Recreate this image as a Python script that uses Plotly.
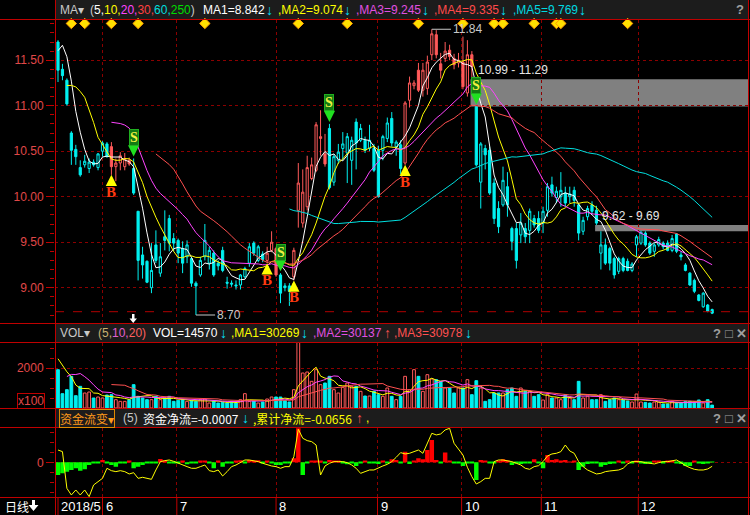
import math
import pandas as pd
import plotly.graph_objects as go

W, H = 750, 515

# ------------------------------------------------------------------ data
warmup_close = [10.50, 10.60, 10.75, 11.03, 11.65, 11.85, 12.10]
warmup_volume = [550, 650, 600, 2300, 2600, 2800, 2700]

open_ = [
    11.70, 11.40, 11.28, 10.70, 10.52, 10.32, 10.35, 10.31, 10.38, 10.32,
    10.50, 10.58, 10.55, 10.33, 10.37, 10.33, 10.40, 10.31, 9.84, 9.36,
    9.29, 9.00, 9.47, 9.16, 9.56, 9.76, 9.54, 9.52, 9.43, 9.34,
    9.32, 9.05, 9.14, 9.34, 9.27, 9.38, 9.27, 9.41, 9.06, 9.05,
    9.03, 9.03, 9.12, 9.27, 9.49, 9.30, 9.37, 9.30, 9.41, 9.43,
    9.14, 9.02, 9.02, 9.12, 9.85, 9.71, 9.89, 10.20, 10.29, 10.64,
    10.47, 10.75, 10.16, 10.40, 10.53, 10.48, 10.40, 10.82, 10.62, 10.62,
    10.53, 10.53, 10.51, 10.51, 10.64, 10.86, 10.55, 10.57, 10.37, 11.06,
    11.22, 11.39, 11.17, 11.19, 11.56, 11.78, 11.46, 11.52, 11.61, 11.52,
    11.47, 11.48, 11.14, 11.56, 10.99, 10.16, 10.53, 10.51, 10.15, 9.87,
    9.91, 10.11, 9.65, 9.65, 9.58, 9.65, 9.63, 9.76, 9.76, 9.71,
    9.85, 10.13, 9.99, 10.00, 10.04, 10.00, 10.07, 9.91, 9.62, 9.78,
    9.91, 9.85, 9.38, 9.47, 9.43, 9.32, 9.18, 9.32, 9.29, 9.19,
    9.47, 9.49, 9.60, 9.49, 9.40, 9.47, 9.49, 9.49, 9.41, 9.59,
    9.36, 9.25, 9.16, 9.08, 8.92, 8.79, 8.81, 8.76,
]
high = [
    11.72, 11.46, 11.30, 10.72, 10.57, 10.40, 10.46, 10.42, 10.41, 10.48,
    10.61, 10.60, 10.60, 10.42, 10.49, 10.48, 10.43, 10.42, 9.84, 9.45,
    9.30, 9.49, 9.63, 9.49, 9.85, 9.80, 9.60, 9.54, 9.51, 9.52,
    9.34, 9.07, 9.34, 9.70, 9.45, 9.41, 9.30, 9.45, 9.12, 9.08,
    9.08, 9.15, 9.23, 9.49, 9.51, 9.47, 9.40, 9.45, 9.62, 9.45,
    9.16, 9.05, 9.05, 9.44, 10.37, 10.30, 10.45, 10.43, 10.82, 10.95,
    10.69, 10.80, 10.47, 10.58, 10.71, 10.70, 10.66, 10.86, 10.80, 10.66,
    10.79, 10.58, 10.56, 10.68, 10.87, 10.93, 10.62, 10.62, 11.05, 11.32,
    11.28, 11.47, 11.47, 11.55, 11.84, 11.83, 11.58, 11.70, 11.67, 11.57,
    11.58, 11.76, 11.72, 11.60, 10.99, 10.60, 10.57, 10.55, 10.20, 9.95,
    10.33, 10.27, 9.67, 9.71, 9.82, 9.71, 9.87, 9.80, 9.84, 9.89,
    10.15, 10.22, 10.11, 10.27, 10.11, 10.11, 10.11, 9.93, 9.78, 9.90,
    9.95, 9.90, 9.62, 9.54, 9.45, 9.34, 9.34, 9.34, 9.32, 9.28,
    9.58, 9.62, 9.62, 9.51, 9.49, 9.56, 9.51, 9.52, 9.58, 9.60,
    9.40, 9.27, 9.17, 9.10, 8.93, 8.95, 8.82, 8.77,
]
low = [
    11.26, 11.28, 11.00, 10.35, 10.35, 10.22, 10.32, 10.26, 10.33, 10.29,
    10.44, 10.43, 10.24, 10.17, 10.29, 10.29, 10.34, 10.02, 9.08, 9.10,
    9.05, 8.94, 9.27, 9.12, 9.41, 9.40, 9.40, 9.27, 9.16, 9.27,
    9.01, 8.70, 9.12, 9.30, 9.20, 9.12, 9.19, 9.17, 8.99, 9.01,
    8.98, 8.98, 9.10, 9.23, 9.35, 9.28, 9.28, 9.27, 9.39, 9.12,
    8.83, 8.96, 8.80, 9.08, 9.66, 9.66, 9.85, 10.18, 10.27, 10.45,
    10.33, 10.08, 10.12, 10.36, 10.40, 10.15, 10.13, 10.30, 10.60, 10.48,
    10.50, 10.27, 9.99, 10.40, 10.60, 10.55, 10.45, 10.25, 10.35, 10.98,
    11.18, 11.15, 11.10, 11.12, 11.50, 11.52, 11.30, 11.48, 11.50, 11.40,
    11.42, 11.18, 11.10, 11.29, 10.33, 9.87, 10.30, 10.02, 9.70, 9.60,
    9.89, 9.78, 9.41, 9.21, 9.49, 9.49, 9.49, 9.66, 9.60, 9.60,
    9.78, 10.00, 9.93, 9.89, 9.89, 9.93, 9.89, 9.52, 9.58, 9.74,
    9.80, 9.69, 9.20, 9.25, 9.19, 9.10, 9.15, 9.17, 9.18, 9.17,
    9.34, 9.47, 9.45, 9.36, 9.34, 9.45, 9.42, 9.40, 9.39, 9.38,
    9.30, 9.18, 9.02, 8.94, 8.85, 8.78, 8.73, 8.71,
]
close = [
    11.39, 11.33, 11.02, 10.51, 10.44, 10.24, 10.39, 10.38, 10.35, 10.47,
    10.59, 10.44, 10.33, 10.37, 10.45, 10.42, 10.36, 10.04, 9.30, 9.25,
    9.06, 9.19, 9.30, 9.34, 9.52, 9.49, 9.49, 9.38, 9.27, 9.47,
    9.05, 9.02, 9.30, 9.52, 9.41, 9.14, 9.24, 9.19, 9.05, 9.04,
    9.02, 9.14, 9.21, 9.45, 9.38, 9.45, 9.31, 9.38, 9.50, 9.14,
    8.94, 9.00, 8.96, 9.41, 10.15, 10.05, 10.32, 10.35, 10.79, 10.66,
    10.36, 10.10, 10.44, 10.49, 10.58, 10.66, 10.62, 10.59, 10.75, 10.51,
    10.62, 10.29, 10.00, 10.66, 10.81, 10.59, 10.60, 10.31, 11.03, 11.25,
    11.25, 11.17, 11.39, 11.48, 11.79, 11.56, 11.39, 11.60, 11.54, 11.45,
    11.50, 11.21, 11.56, 11.43, 10.35, 10.58, 10.46, 10.04, 9.76, 9.67,
    10.18, 9.91, 9.51, 9.30, 9.71, 9.56, 9.84, 9.69, 9.63, 9.84,
    10.11, 10.04, 10.06, 10.07, 9.93, 10.03, 9.96, 9.60, 9.74, 9.87,
    9.84, 9.71, 9.47, 9.27, 9.27, 9.14, 9.32, 9.19, 9.19, 9.26,
    9.56, 9.61, 9.47, 9.38, 9.47, 9.53, 9.45, 9.41, 9.54, 9.40,
    9.34, 9.19, 9.03, 8.96, 8.86, 8.94, 8.74, 8.72,
]
volume = [
    1917, 717, 917, 1583, 617, 1083, 750, 800, 500, 550,
    500, 650, 667, 417, 333, 333, 417, 1167, 583, 500,
    417, 417, 583, 417, 500, 583, 333, 383, 417, 333,
    367, 333, 417, 450, 250, 350, 250, 283, 250, 333,
    250, 417, 717, 333, 367, 250, 300, 450, 550, 550,
    550, 367, 300, 917, 3400, 1750, 1800, 1333, 1917, 1167,
    1250, 1583, 917, 750, 1033, 1250, 1083, 1083, 833, 600,
    600, 833, 667, 583, 1000, 583, 417, 583, 1583, 917,
    1917, 1583, 833, 1667, 1450, 1417, 1333, 1000, 1000, 750,
    1000, 1000, 1417, 667, 1367, 1000, 333, 417, 750, 750,
    750, 917, 1000, 583, 1000, 833, 833, 583, 667, 400,
    667, 500, 500, 417, 667, 500, 417, 1333, 500, 583,
    417, 417, 667, 333, 417, 500, 417, 400, 350, 300,
    700, 300, 280, 250, 300, 300, 200, 202, 333, 250,
    250, 333, 333, 300, 400, 250, 417, 146,
]
flow_net = [
    -0.208, -0.180, -0.153, -0.126, -0.098, -0.137, -0.115, -0.044, -0.016, -0.011,
    0.038, -0.011, -0.044, -0.071, -0.016, -0.016, 0.022, -0.098, -0.071, -0.044,
    -0.016, -0.011, -0.005, 0.055, 0.022, -0.005, -0.011, -0.011, 0.022, -0.033,
    -0.011, -0.016, 0.022, 0.022, -0.011, -0.098, 0.022, -0.071, -0.011, -0.016,
    0.022, 0.033, -0.011, 0.038, 0.027, 0.033, -0.011, 0.027, -0.011, -0.044,
    -0.044, -0.011, -0.005, 0.066, 0.558, -0.208, -0.011, 0.016, 0.022, 0.022,
    -0.011, 0.038, 0.027, 0.022, -0.011, -0.033, -0.011, -0.060, -0.011, 0.022,
    -0.016, -0.011, -0.027, 0.022, -0.005, 0.049, 0.038, -0.011, 0.175, -0.027,
    0.022, 0.066, 0.049, 0.202, 0.366, 0.038, -0.011, 0.159, 0.022, -0.011,
    -0.011, -0.060, -0.011, -0.016, -0.290, 0.038, 0.022, -0.011, -0.011, 0.027,
    0.049, 0.022, -0.044, -0.016, -0.027, -0.011, -0.005, 0.049, -0.011, -0.098,
    0.120, 0.038, 0.049, 0.022, 0.038, 0.011, 0.027, -0.126, -0.071, -0.027,
    -0.011, -0.016, -0.071, -0.044, -0.027, -0.011, 0.022, -0.011, 0.022, -0.005,
    0.027, -0.011, -0.027, -0.011, 0.022, 0.027, -0.011, 0.027, 0.027, -0.011,
    -0.027, -0.060, -0.060, 0.022, -0.016, -0.027, -0.011, -0.0007,
]
flow_cum = [
    0.202, 0.175, -0.427, -0.536, -0.454, -0.536, -0.454, -0.563, -0.372, -0.317,
    -0.263, -0.098, -0.137, -0.153, -0.137, -0.153, -0.191, -0.170, -0.263, -0.246,
    -0.263, -0.279, -0.126, 0.011, 0.027, 0.038, 0.016, -0.016, -0.044, -0.071,
    -0.098, -0.098, -0.071, -0.044, -0.137, -0.153, -0.126, -0.224, -0.153, -0.071,
    -0.044, 0.000, 0.038, 0.038, 0.027, 0.011, -0.016, -0.044, -0.060, -0.071,
    -0.098, -0.071, -0.071, 0.093, 0.542, 0.394, 0.356, 0.339, 0.284, -0.208,
    -0.060, -0.016, 0.011, 0.011, 0.011, -0.005, -0.044, -0.098, -0.181, -0.153,
    -0.126, -0.126, -0.088, -0.060, -0.033, 0.011, 0.082, 0.159, 0.137, 0.148,
    0.175, 0.202, 0.148, 0.312, 0.476, 0.449, 0.465, 0.531, 0.558, 0.312,
    0.213, 0.120, -0.082, -0.235, -0.356, -0.317, -0.263, -0.263, 0.011, 0.038,
    0.038, 0.027, 0.011, -0.016, -0.044, -0.098, -0.115, -0.071, -0.055, 0.011,
    0.104, 0.137, 0.148, 0.175, 0.284, 0.186, 0.148, 0.011, -0.071, -0.126,
    -0.153, -0.191, -0.181, -0.153, -0.142, -0.137, -0.126, -0.098, -0.027, 0.011,
    0.011, 0.011, -0.005, -0.016, -0.027, -0.005, 0.011, 0.011, 0.027, 0.038,
    -0.005, -0.055, -0.088, -0.115, -0.126, -0.126, -0.109, -0.0656,
]
buy_signals = [12, 47, 53, 78]
sell_signals = [17, 50, 61, 94]
event_days = [3, 6, 12, 18, 33, 54, 65, 81, 91, 98, 100, 107, 112, 113, 128]
month_ticks = [0, 10.0, 26.7, 49.0, 71.8, 90.7, 108.6, 130.4]
month_labels = ["2018/5", "6", "7", "8", "9", "10", "11", "12"]
price_ticks = [9.0, 9.5, 10.0, 10.5, 11.0, 11.5]
gap_before = [93, 121]
ma_periods = [5, 10, 20, 30, 60]
vol_ma_periods = [5, 10, 20]

# ------------------------------------------------------------------ style
FONT = "Liberation Sans, Arial, sans-serif"
CJK = "Noto Sans CJK SC, sans-serif"
RED_C = "#ff5a5a"
CYAN_C = "#00f0f0"
BORDER = "#c00000"
GRID = "#8c0000"
AXIS_TXT = "#e04848"
HEADER_BG = "#1c1c1c"

X0_PX, X1_PX = 55, 748
FIRST_PX, STEP_PX = 58, 4.45
X_RANGE = [(X0_PX - FIRST_PX) / STEP_PX, (X1_PX - FIRST_PX) / STEP_PX]
PPU = 91.0
Y_RANGE = [9 - (323 - 287.7) / PPU, 9 + (287.7 - 20) / PPU]
VOL_RANGE = [0, (408 - 342.5) * 50]
FLOW_RANGE = [-0.569, 0.571]


def fx(p):
    return p / W


def fy(p):
    return 1 - p / H


n = len(close)
idx = list(range(n))


def rolling(seq, warm, p):
    s = pd.Series(list(warm) + list(seq), dtype=float).rolling(p).mean()
    vals = s.iloc[len(warm):].tolist()
    return [None if math.isnan(v) else round(v, 4) for v in vals]


state = []
on = False
for i in idx:
    if i in buy_signals:
        on = True
    if i in sell_signals:
        on = False
    state.append(on)

fig = go.Figure()

# candles, coloured by the B/S state
for flag, col in ((False, CYAN_C), (True, RED_C)):
    sel = [i for i in idx if state[i] == flag]
    fig.add_trace(go.Candlestick(
        x=sel,
        open=[open_[i] for i in sel], high=[high[i] for i in sel],
        low=[low[i] for i in sel], close=[close[i] for i in sel],
        increasing=dict(line=dict(color=col, width=1), fillcolor="#000000"),
        decreasing=dict(line=dict(color=col, width=1), fillcolor=col),
        whiskerwidth=0, showlegend=False, hoverinfo="skip",
        xaxis="x", yaxis="y"))

ma_colors = ["#ffffff", "#ffff00", "#ff44ff", "#ff5050", "#00dede"]
for p, c in zip(ma_periods, ma_colors):
    fig.add_trace(go.Scatter(x=idx, y=rolling(close, warmup_close, p), mode="lines",
                             line=dict(color=c, width=1), showlegend=False,
                             hoverinfo="skip", xaxis="x", yaxis="y"))

diamond_y = Y_RANGE[1] - 3.5 / PPU
fig.add_trace(go.Scatter(x=event_days, y=[diamond_y] * len(event_days), mode="markers",
                         marker=dict(symbol="diamond", size=8, color="#ffe000",
                                     line=dict(color="#ff9900", width=1)),
                         cliponaxis=False, showlegend=False, hoverinfo="skip",
                         xaxis="x", yaxis="y"))

# volume
up = [close[i] >= open_[i] for i in idx]
fig.add_trace(go.Bar(x=idx, y=volume, width=0.62,
                     marker=dict(color=["#000000" if u else CYAN_C for u in up],
                                 line=dict(color=[RED_C if u else CYAN_C for u in up], width=1)),
                     showlegend=False, hoverinfo="skip", xaxis="x2", yaxis="y2"))
for p, c in zip(vol_ma_periods, ["#ffff00", "#ff44ff", "#ff5050"]):
    fig.add_trace(go.Scatter(x=idx, y=rolling(volume, warmup_volume, p), mode="lines",
                             line=dict(color=c, width=1), showlegend=False,
                             hoverinfo="skip", xaxis="x2", yaxis="y2"))

# money flow
fig.add_trace(go.Bar(x=idx, y=flow_net, width=1.0,
                     marker=dict(color=["#ff0000" if v > 0 else "#00ff00" for v in flow_net],
                                 line=dict(width=0)),
                     showlegend=False, hoverinfo="skip", xaxis="x3", yaxis="y3"))
fig.add_trace(go.Scatter(x=idx, y=flow_cum, mode="lines", line=dict(color="#ffff00", width=1),
                         showlegend=False, hoverinfo="skip", xaxis="x3", yaxis="y3"))

# ------------------------------------------------------------------ axes
xcommon = dict(range=X_RANGE, domain=[fx(X0_PX), fx(X1_PX)], showticklabels=False, ticks="",
               tickmode="array", tickvals=month_ticks[1:], showgrid=True, gridcolor=GRID,
               griddash="dot", gridwidth=1, zeroline=False, showline=False, fixedrange=True)
ycommon = dict(ticks="outside", ticklen=8, tickcolor=BORDER, showgrid=True, gridcolor=GRID,
               griddash="dot", gridwidth=1, zeroline=False, showline=False, fixedrange=True,
               tickfont=dict(color=AXIS_TXT, size=12, family=FONT), tickmode="array")

layout = dict(
    width=W, height=H, margin=dict(l=0, r=0, t=0, b=0),
    paper_bgcolor="#000000", plot_bgcolor="#000000", showlegend=False,
    font=dict(family=FONT, color="#ffffff"), barmode="overlay", boxgap=0.3,
    xaxis=dict(**xcommon, anchor="y", rangeslider=dict(visible=False)),
    xaxis2=dict(**xcommon, anchor="y2"),
    xaxis3=dict(**xcommon, anchor="y3"),
    yaxis=dict(**ycommon, domain=[fy(323), fy(20)], range=Y_RANGE, anchor="x",
               tickvals=price_ticks, ticktext=["%.2f" % v for v in price_ticks],
               minor=dict(ticks="outside", ticklen=4, tickcolor=BORDER, dtick=0.1, tick0=9.0,
                          showgrid=False)),
    yaxis2=dict(**ycommon, domain=[fy(408), fy(342.5)], range=VOL_RANGE, anchor="x2",
                tickvals=[2000], ticktext=["2000"],
                minor=dict(ticks="outside", ticklen=4, tickcolor=BORDER, dtick=500, tick0=0,
                           showgrid=False)),
    yaxis3=dict(**ycommon, domain=[fy(497), fy(427.5)], range=FLOW_RANGE, anchor="x3",
                tickvals=[0], ticktext=["0"],
                minor=dict(ticks="outside", ticklen=4, tickcolor=BORDER, dtick=0.164, tick0=0,
                           showgrid=False)),
)

# ------------------------------------------------------------------ shapes
shapes = []
for top, bot in ((0, 19), (324, 342), (409, 427)):
    shapes.append(dict(type="rect", xref="paper", yref="paper", x0=fx(X0_PX), x1=fx(X1_PX),
                       y0=fy(bot), y1=fy(top), fillcolor=HEADER_BG, line=dict(width=0),
                       layer="below"))
for py in (19.5, 323.5, 342.5, 408.5, 427.5, 497.5):
    shapes.append(dict(type="line", xref="paper", yref="paper", x0=0, x1=1, y0=fy(py), y1=fy(py),
                       line=dict(color=BORDER, width=1)))
for pxv in (55.5, 748.5):
    shapes.append(dict(type="line", xref="paper", yref="paper", x0=fx(pxv), x1=fx(pxv),
                       y0=0, y1=1, line=dict(color=BORDER, width=1)))
for m in month_ticks:
    shapes.append(dict(type="line", xref="x3", yref="paper", x0=m, x1=m, y0=0, y1=fy(497.5),
                       line=dict(color=BORDER, width=1)))
# dashed bottom level line
shapes.append(dict(type="line", xref="paper", yref="y", x0=fx(X0_PX), x1=fx(X1_PX),
                   y0=9 - (311.7 - 287.7) / PPU, y1=9 - (311.7 - 287.7) / PPU,
                   line=dict(color="#b00000", width=1, dash="dash")))

annotations = []

# gap zones
for g in gap_before:
    top_v, bot_v = low[g], high[g + 1]
    shapes.append(dict(type="rect", xref="x", yref="y", x0=g - 0.3, x1=X_RANGE[1], y0=bot_v,
                       y1=top_v, fillcolor="#808080", line=dict(width=0), layer="below"))
    annotations.append(dict(x=g - 0.3, y=top_v, xref="x", yref="y",
                            text="%.2f - %.2f" % (bot_v, top_v), showarrow=False,
                            xanchor="left", yanchor="bottom", xshift=5, yshift=0,
                            font=dict(color="#e6e6e6", size=12, family=FONT)))

# extreme labels
imax = max(idx, key=lambda i: high[i])
imin = min(idx, key=lambda i: low[i])
for i_ext, v in ((imax, high[imax]), (imin, low[imin])):
    shapes.append(dict(type="line", xref="x", yref="y", x0=i_ext, x1=i_ext + 4.3, y0=v, y1=v,
                       line=dict(color="#c8c8c8", width=1)))
    annotations.append(dict(x=i_ext + 4.3, y=v, xref="x", yref="y", text="%.2f" % v,
                            showarrow=False, xanchor="left", yanchor="middle", xshift=0,
                            font=dict(color="#c8c8c8", size=12, family=FONT)))


def px_path(points):
    return "M " + " L ".join("%.5f %.5f" % (fx(a), fy(b)) for a, b in points) + " Z"


# cursor arrow and 日线 arrow
shapes.append(dict(type="path", xref="paper", yref="paper", fillcolor="#ffffff",
                   line=dict(width=0),
                   path=px_path([(132, 314), (134.5, 314), (134.5, 318.5), (137, 318.5),
                                 (133.2, 323), (129.5, 318.5), (132, 318.5)])))
shapes.append(dict(type="path", xref="paper", yref="paper", fillcolor="#ffffff",
                   line=dict(width=0),
                   path=px_path([(32, 500), (35, 500), (35, 505), (38.5, 505), (33.5, 511),
                                 (28.5, 505), (32, 505)])))


def txt(px, py, text, color, size=12, anchor="left", family=FONT, **kw):
    d = dict(x=fx(px), y=fy(py), xref="paper", yref="paper", text=text, showarrow=False,
             xanchor=anchor, yanchor="middle", font=dict(color=color, size=size, family=family))
    d.update(kw)
    return d


GRAY = "#c8c8c8"
ARW = 14
# top header
annotations += [
    txt(58, 10, "MA▾", GRAY),
    txt(88, 10, '<span style="color:#c8c8c8">(</span><span style="color:#ffffff">5,</span>'
                '<span style="color:#ffff00">10,</span><span style="color:#ff44ff">20,</span>'
                '<span style="color:#ff4040">30,</span><span style="color:#00dede">60,</span>'
                '<span style="color:#00dd00">250</span><span style="color:#c8c8c8">)</span>', GRAY),
    txt(201, 10, "MA1=8.842", "#ffffff"),
    txt(269, 10, "↓", "#00e0ff", size=ARW, anchor="center"),
    txt(276, 10, ",MA2=9.074", "#ffff00"),
    txt(347, 10, "↓", "#00e0ff", size=ARW, anchor="center"),
    txt(354, 10, ",MA3=9.245", "#e050e0"),
    txt(425, 10, "↓", "#00e0ff", size=ARW, anchor="center"),
    txt(432, 10, ",MA4=9.335", "#ff4a4a"),
    txt(503, 10, "↓", "#00e0ff", size=ARW, anchor="center"),
    txt(511, 10, ",MA5=9.769", "#00d8e0"),
    txt(582, 10, "↓", "#00e0ff", size=ARW, anchor="center"),
    txt(740, 10, "<b>?</b>", "#a0a0a0", size=13, anchor="center"),
]
# volume header
annotations += [
    txt(58, 333, "VOL▾", GRAY),
    txt(96, 333, '<span style="color:#c8b070">(5,</span><span style="color:#e060d0">10,</span>'
                 '<span style="color:#ff6060">20)</span>', GRAY),
    txt(151, 333, "VOL=14570", "#ffffff"),
    txt(223, 333, "↓", "#00e0ff", size=ARW, anchor="center"),
    txt(229, 333, ",MA1=30269", "#ffff00"),
    txt(304, 333, "↓", "#00e0ff", size=ARW, anchor="center"),
    txt(311, 333, ",MA2=30137", "#e050e0"),
    txt(387, 333, "↑", "#ff5050", size=ARW, anchor="center"),
    txt(392, 333, ",MA3=30978", "#ff5050"),
    txt(468, 333, "↓", "#00e0ff", size=ARW, anchor="center"),
]
# flow header
annotations += [
    txt(87, 418, "资金流变▾", "#ff9a1a", family=CJK, anchor="center",
        bordercolor="#e08a00", borderwidth=1, borderpad=0),
    txt(121, 418, "(5)", GRAY),
    txt(141, 418, "资金净流=-0.0007", "#ffffff", family=CJK),
    txt(245, 418, "↓", "#00e0ff", size=ARW, anchor="center"),
    txt(251, 418, ",累计净流=-0.0656", "#ffff00", family=CJK),
    txt(359, 418, "↑", "#ff5050", size=ARW, anchor="center"),
    txt(364, 418, ",", "#ffff00"),
]
for py in (333, 418):
    annotations += [
        txt(717, py, "<b>?</b>", "#a0a0a0", size=13, anchor="center"),
        txt(729, py, "<b>□</b>", "#a0a0a0", size=13, anchor="center"),
        txt(741, py, "<b>✕</b>", "#a0a0a0", size=13, anchor="center"),
    ]
# left panel labels
annotations += [
    txt(31, 401, "x100", AXIS_TXT, anchor="center", bordercolor=BORDER, borderwidth=1,
        borderpad=0),
    txt(3, 506, "日线", "#ffffff", family=CJK),
]
# month labels
for m, lab in zip(month_ticks, month_labels):
    annotations.append(dict(x=m, y=fy(506), xref="x3", yref="paper", text=lab, showarrow=False,
                            xanchor="left", yanchor="middle", xshift=1,
                            font=dict(color="#ffffff", size=13, family=FONT)))

# B / S signals
for i in buy_signals:
    annotations.append(dict(x=i, y=low[i], xref="x", yref="y", text="", showarrow=True,
                            ax=0, ay=10, arrowhead=2, arrowsize=0.9, arrowwidth=2.5,
                            arrowcolor="#ffff00", standoff=0))
    annotations.append(dict(x=i, y=low[i], xref="x", yref="y", text="<b>B</b>",
                            showarrow=False, yshift=-17, yanchor="middle",
                            font=dict(family="Liberation Serif", size=15, color="#ff3a10")))
for i in sell_signals:
    annotations.append(dict(x=i, y=high[i], xref="x", yref="y", text="", showarrow=True,
                            ax=0, ay=-10, arrowhead=2, arrowsize=0.9, arrowwidth=2.5,
                            arrowcolor="#20e020", standoff=2))
    annotations.append(dict(x=i, y=high[i], xref="x", yref="y", text="<b>S</b>",
                            showarrow=False, yshift=21, yanchor="middle",
                            bgcolor="#137a13", bordercolor="#20b020", borderwidth=1,
                            borderpad=0,
                            font=dict(family="Liberation Serif", size=14, color="#f0f040")))

layout["shapes"] = shapes
layout["annotations"] = annotations
fig.update_layout(**layout)

fig.write_html("out.html")
